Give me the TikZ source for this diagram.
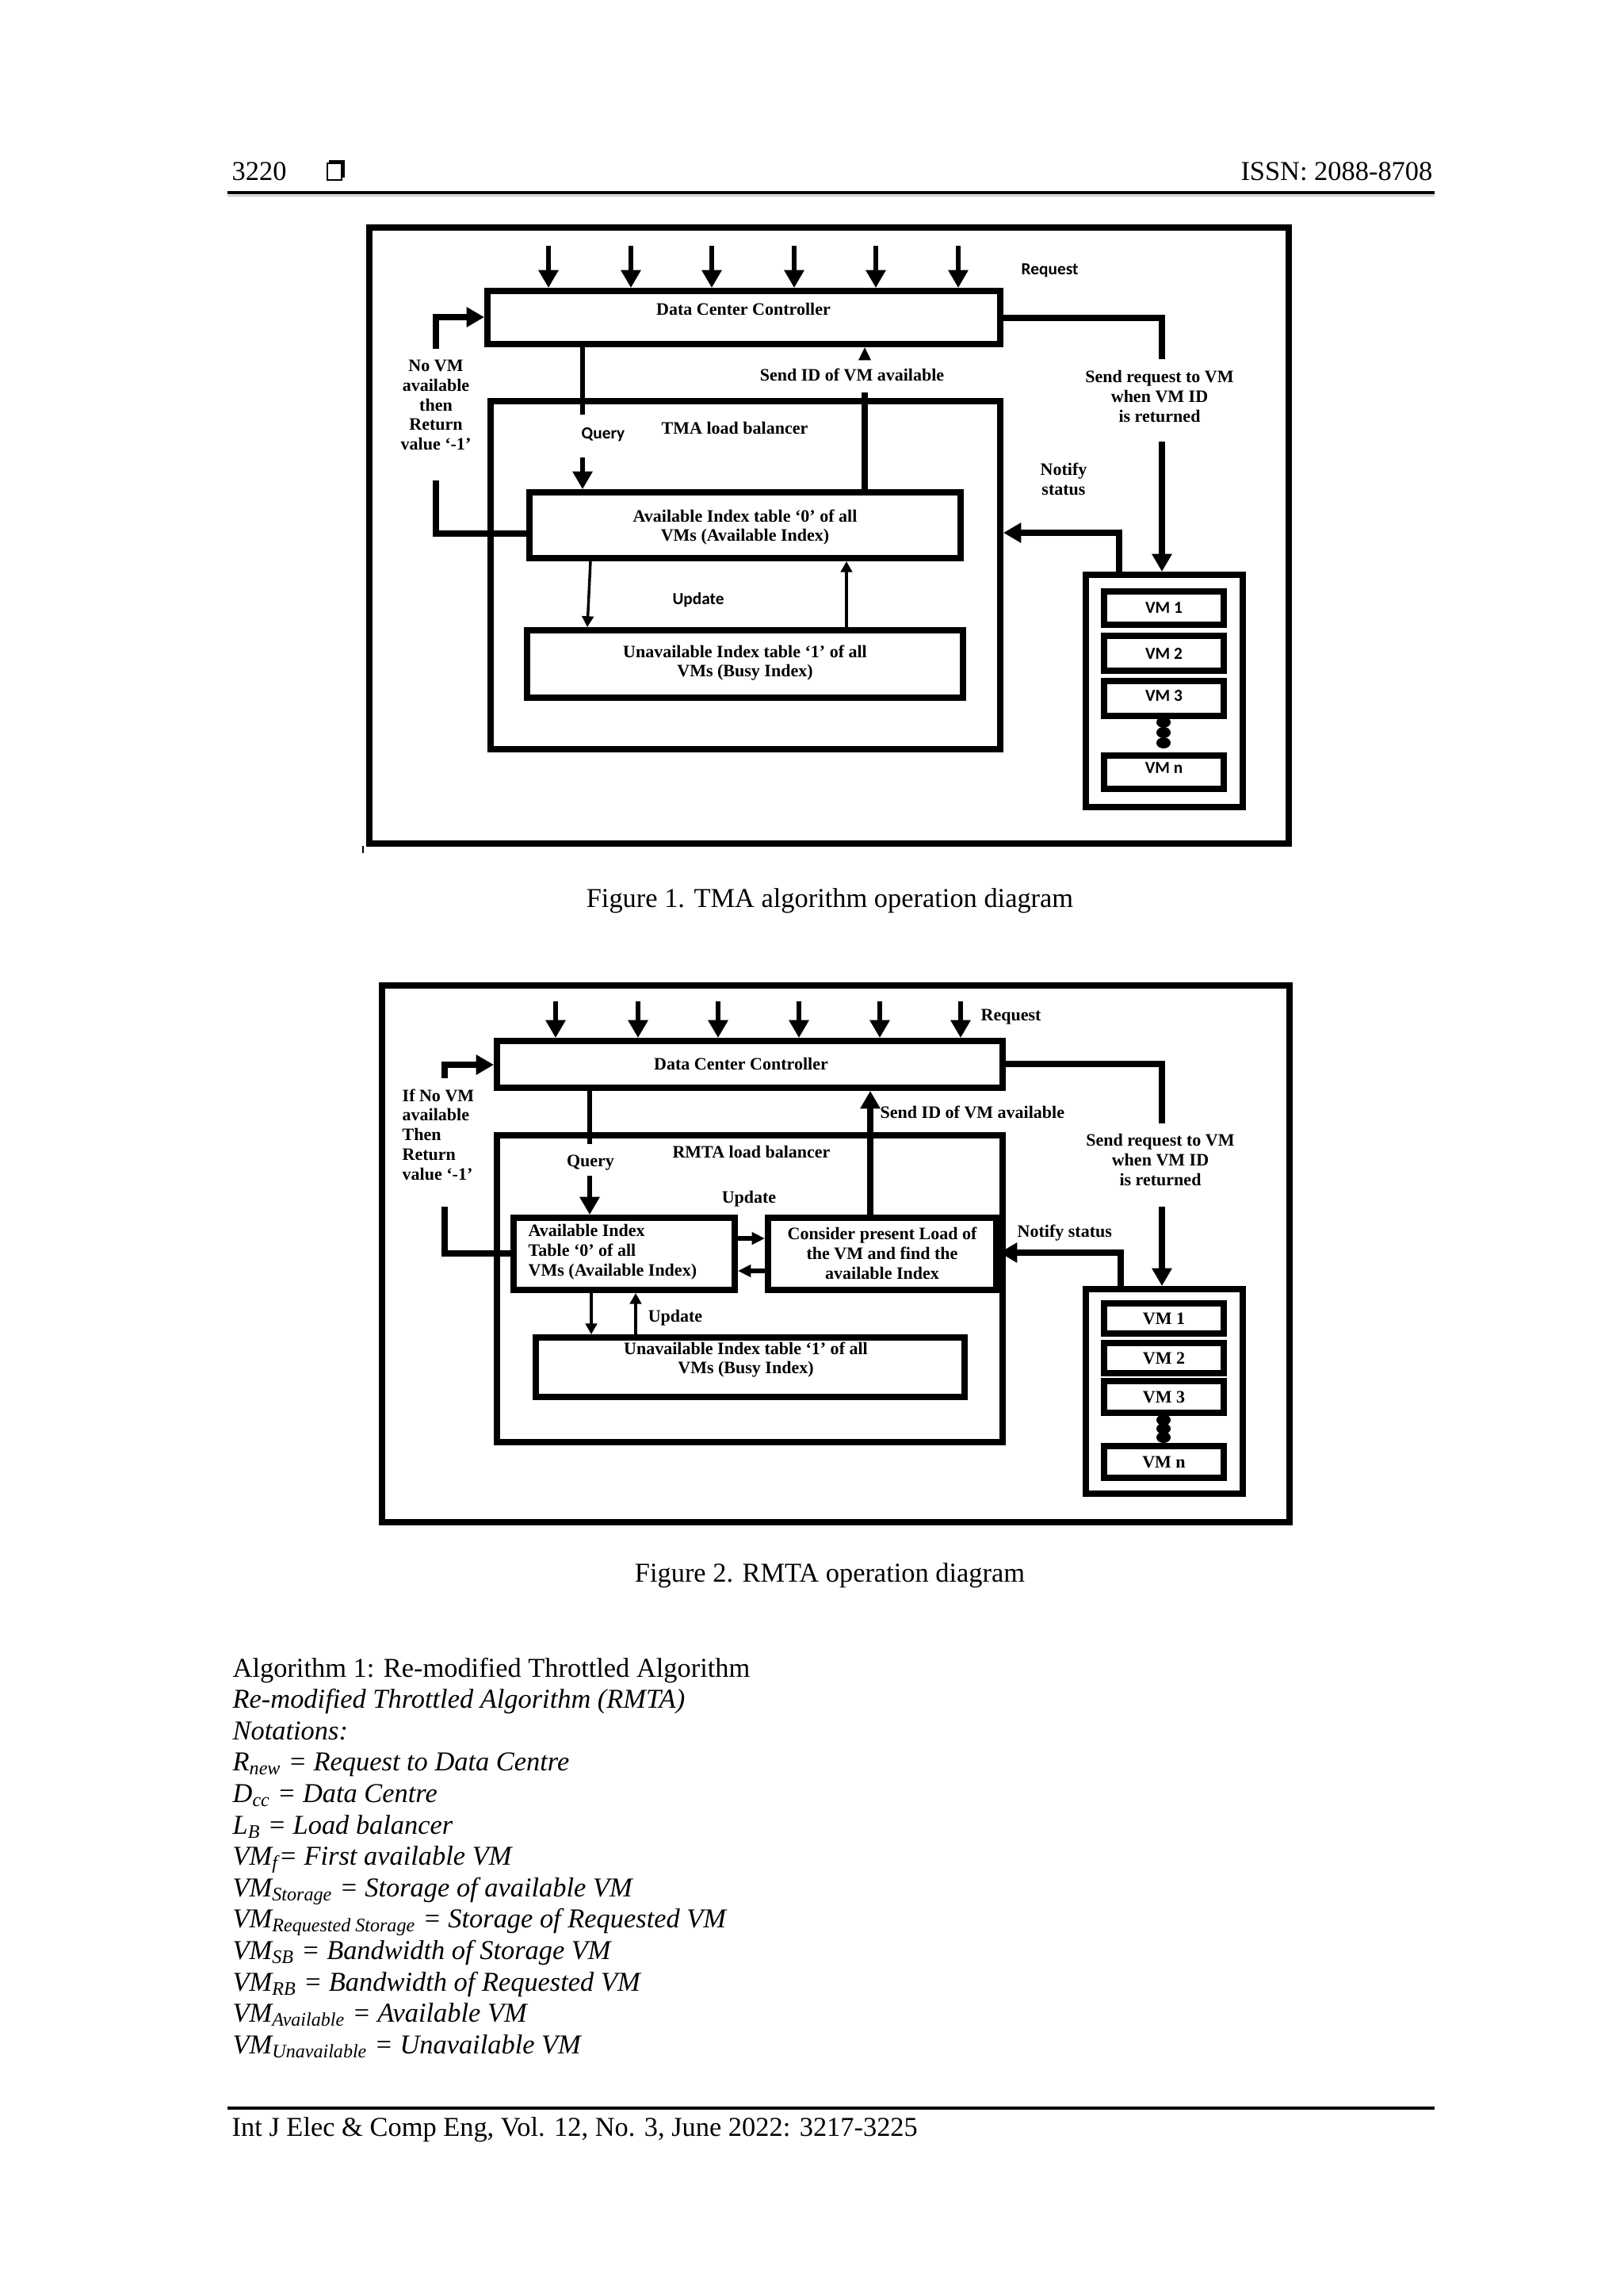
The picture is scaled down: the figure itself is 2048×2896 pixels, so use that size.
\documentclass[tikz,border=0pt]{standalone}
\usepackage{fontspec}
\setmainfont{Liberation Serif}
\newfontfamily\calib{Carlito}
\usetikzlibrary{arrows.meta,fit}
\begin{document}
\begin{tikzpicture}[x=0.29066pt,y=-0.29066pt,
  bx/.style={draw,line width=2.3pt,inner sep=0pt},
  thk/.style={line width=2.3pt,line join=miter},
  med/.style={line width=2pt},
  thn/.style={line width=1pt},
  tipL/.style={-{Triangle[width=7pt,length=6.5pt]}},
  tipM/.style={-{Triangle[width=4.4pt,length=4.8pt]}},
  tipS/.style={-{Triangle[width=4.2pt,length=4pt]}},
  lbl/.style={font=\fontsize{6.4}{7.2}\selectfont\bfseries,align=center,inner sep=0pt},
  lbll/.style={font=\fontsize{6.4}{7.2}\selectfont\bfseries,align=left,inner sep=0pt},
  lbc/.style={font=\calib\fontsize{6.2}{7.2}\selectfont\bfseries,align=center,inner sep=0pt},
  body/.style={font=\fontsize{10}{12}\selectfont,inner sep=0pt},
  ital/.style={font=\fontsize{10}{12}\selectfont\itshape,inner sep=0pt,anchor=base west}]
\useasboundingbox (0,0) rectangle (2048,2896);
\fill[white] (0,0) rectangle (2048,2896);

% ---------- header ----------
\node[body,anchor=base west] (pgno) at (292,227) {3220};
\fill (415,202) rectangle (435,224);
\filldraw[fill=white,draw=black,line width=0.5pt] (413,206) rectangle (431,227);
\node[body,anchor=base east] (issn) at (1808,227) {ISSN: 2088-8708};
\draw[line width=1pt] (287,243) -- (1810,243);
\draw[line width=0.4pt,gray!40] (287,247) -- (1810,247);

% ================= FIGURE 1 =================
\node[bx,fit={(466,287) (1626,1064)}] (frame1) {};
\node[bx,fit={(615,367) (1262,434)}] (dcc1) {};
\node[bx,fit={(619,506) (1262,945)}] (tma1) {};
\node[bx,fit={(668,621) (1212,704)}] (av1) {};
\node[bx,fit={(665,795) (1215,880)}] (un1) {};
\node[bx,fit={(1370,725) (1568,1018)}] (vmc1) {};
\node[bx,fit={(1393,746) (1544,788)}] (vma1) {};
\node[bx,fit={(1393,802) (1544,846)}] (vmb1) {};
\node[bx,fit={(1393,859) (1544,903)}] (vmcc1) {};
\node[bx,fit={(1393,953) (1544,995)}] (vmn1) {};

\node[lbc] (tvma1) at (vma1.center) {VM 1};
\node[lbc] (tvmb1) at (vmb1.center) {VM 2};
\node[lbc] (tvmc1) at ([yshift=1pt]vmcc1.center) {VM 3};
\node[lbc] (tvmn1) at ([yshift=1.5pt]vmn1.center) {VM n};
\fill (1468,911) ellipse [x radius=9,y radius=7];
\fill (1468,924) ellipse [x radius=9,y radius=7];
\fill (1468,937) ellipse [x radius=9,y radius=7];

\node[lbl] (tdcc1) at (938,390) {Data Center Controller};
\node[lbl] (ttma1) at (927,540) {TMA load balancer};
\node[lbl] (tav1) at (940,665) {Available Index table `0' of all\\VMs (Available Index)};
\node[lbl] (tun1) at (940,836) {Unavailable Index table `1' of all\\VMs (Busy Index)};
\node[lbc,anchor=west] (treq1) at (1288,341) {Request};
\node[lbl] (tnovm1) at (550,511) {No VM\\available\\then\\Return\\value `-1'};
\node[lbl] (tsid1) at (1075,473) {Send ID of VM available};
\node[lbl] (tsr1) at (1463,500) {Send request to VM\\when VM ID\\is returned};
\node[lbc] (tq1) at (761,548) {Query};
\node[lbl] (tnt1) at (1342,604) {Notify\\status};
\node[lbc] (tup1) at (881,757) {Update};

% request arrows
\foreach \i/\x in {1/692,2/796,3/898,4/1002,5/1105,6/1209}{
  \coordinate (ra\i) at (\x,310);
  \draw[med,tipL] (ra\i) -- (ra\i |- dcc1.north);
}
% left loop
\coordinate (lpa1) at (550,673);
\coordinate (lpb1) at (550,606);
\coordinate (lpc1) at (550,440);
\coordinate (lpd1) at (550,400);
\draw[thk] (av1.west |- lpa1) -- (lpa1) -- (lpb1);
\draw[thk,tipL] (lpc1) -- (lpd1) -- (dcc1.west |- lpd1);
% query
\coordinate (qa1) at (735,523);
\coordinate (qb1) at (735,577);
\draw[med] (dcc1.south -| qa1) -- (qa1);
\draw[med,tipL] (qb1) -- (av1.north -| qb1);
% send id
\coordinate (sa1) at (1091,495);
\coordinate (sb1) at (1091,452);
\draw[thk] (av1.north -| sa1) -- (sa1);
\draw[line width=1pt,tipM] (sb1) -- (dcc1.south -| sb1);
% send request
\coordinate (ta1) at (1466,401);
\coordinate (tb1) at (1466,453);
\coordinate (tc1) at (1466,557);
\draw[thk] (dcc1.east |- ta1) -- (ta1) -- (tb1);
\draw[thk,tipL] (tc1) -- (vmc1.north -| tc1);
% notify
\coordinate (na1) at (1412,672);
\draw[thk,tipL] (vmc1.north -| na1) -- (na1) -- (tma1.east |- na1);
% update
\coordinate (ua1) at (745,700);
\coordinate (ub1) at (741,800);
\coordinate (uc1) at (1068,800);
\draw[thn,tipS] (av1.south -| ua1) -- (un1.north -| ub1);
\draw[thn,tipS] (un1.north -| uc1) -- (av1.south -| uc1);
\draw[line width=0.3pt] (458,1067) -- (458,1076);

\node[body,anchor=base] (cap1) at (1047,1144) {Figure 1. TMA algorithm operation diagram};

% ================= FIGURE 2 =================
\node[bx,fit={(482,1243) (1627,1920)}] (frame2) {};
\node[bx,fit={(627,1313) (1265,1372)}] (dcc2) {};
\node[bx,fit={(627,1432) (1265,1819)}] (rm2) {};
\node[bx,fit={(648,1536) (927,1627)}] (av2) {};
\node[bx,fit={(969,1536) (1257,1627)}] (co2) {};
\node[bx,fit={(676,1687) (1217,1762)}] (un2) {};
\node[bx,fit={(1370,1626) (1568,1884)}] (vmc2) {};
\node[bx,fit={(1393,1644) (1544,1682)}] (vma2) {};
\node[bx,fit={(1393,1694) (1544,1732)}] (vmb2) {};
\node[bx,fit={(1393,1742) (1544,1782)}] (vmcc2) {};
\node[bx,fit={(1393,1824) (1544,1864)}] (vmn2) {};

\node[lbl] (tvma2) at (vma2.center) {VM 1};
\node[lbl] (tvmb2) at (vmb2.center) {VM 2};
\node[lbl] (tvmc2) at (vmcc2.center) {VM 3};
\node[lbl] (tvmn2) at (vmn2.center) {VM n};
\fill (1468,1791) ellipse [x radius=9,y radius=7];
\fill (1468,1802) ellipse [x radius=9,y radius=7];
\fill (1468,1813) ellipse [x radius=9,y radius=7];

\node[lbl] (tdcc2) at (935,1342) {Data Center Controller};
\node[lbl] (trm2) at (948,1453) {RMTA load balancer};
\node[lbl] (tup2a) at (945,1512) {Update};
\node[lbll,anchor=west] (tav2) at (666,1579) {Available Index\\Table `0' of all\\VMs (Available Index)};
\node[lbl] (tco2) at (1113,1581) {Consider present Load of\\the VM and find the\\available Index};
\node[lbl] (tun2) at (941,1715) {Unavailable Index table `1' of all\\VMs (Busy Index)};
\node[lbl,anchor=west] (treq2) at (1237,1283) {Request};
\node[lbll,anchor=west] (tnovm2) at (507,1431) {If No VM\\available\\Then\\Return\\value `-1'};
\node[lbl,anchor=west] (tsid2) at (1110,1403) {Send ID of VM available};
\node[lbl] (tsr2) at (1464,1463) {Send request to VM\\when VM ID\\is returned};
\node[lbl] (tq2) at (745,1467) {Query};
\node[lbl,anchor=west] (tnt2) at (1283,1555) {Notify status};
\node[lbl] (tup2b) at (852,1662) {Update};

% request arrows
\foreach \i/\x in {1/701,2/805,3/906,4/1008,5/1110,6/1212}{
  \coordinate (rb\i) at (\x,1263);
  \draw[med,tipL] (rb\i) -- (rb\i |- dcc2.north);
}
% left loop
\coordinate (lpa2) at (561,1581);
\coordinate (lpb2) at (561,1522);
\coordinate (lpc2) at (561,1360);
\coordinate (lpd2) at (561,1343);
\draw[thk] (av2.west |- lpa2) -- (lpa2) -- (lpb2);
\draw[thk,tipL] (lpc2) -- (lpd2) -- (dcc2.west |- lpd2);
% query
\coordinate (qa2) at (744,1443);
\coordinate (qb2) at (744,1483);
\draw[med] (dcc2.south -| qa2) -- (qa2);
\draw[med,tipL] (qb2) -- (av2.north -| qb2);
% send id
\coordinate (sa2) at (1098,1450);
\draw[thk,tipL] (co2.north -| sa2) -- (dcc2.south -| sa2);
% send request
\coordinate (ta2) at (1466,1342);
\coordinate (tb2) at (1466,1417);
\coordinate (tc2) at (1466,1522);
\draw[thk] (dcc2.east |- ta2) -- (ta2) -- (tb2);
\draw[thk,tipL] (tc2) -- (vmc2.north -| tc2);
% notify
\coordinate (na2) at (1414,1580);
\draw[thk,tipL] (vmc2.north -| na2) -- (na2) -- (co2.east |- na2);
% between available and consider
\coordinate (ha2) at (0,1562);
\coordinate (hb2) at (0,1603);
\draw[med,tipM] (av2.east |- ha2) -- (co2.west |- ha2);
\draw[med,tipM] (co2.west |- hb2) -- (av2.east |- hb2);
% update
\coordinate (ua2) at (746,1650);
\coordinate (uc2) at (802,1650);
\draw[line width=1.4pt,tipS] (av2.south -| ua2) -- (un2.north -| ua2);
\draw[line width=1.4pt,tipS] (un2.north -| uc2) -- (av2.south -| uc2);

\node[body,anchor=base] (cap2) at (1047,1995) {Figure 2. RMTA operation diagram};

% ================= ALGORITHM TEXT =================
\node[body,anchor=base west] (al1) at (293,2115) {Algorithm 1: Re-modified Throttled Algorithm};
\node[ital] (al2) at (293,2154.6) {Re-modified Throttled Algorithm (RMTA)};
\node[ital] (al3) at (293,2194.2) {Notations:};
\node[ital] (al4) at (293,2233.8) {R\textsubscript{new} = Request to Data Centre};
\node[ital] (al5) at (293,2273.4) {D\textsubscript{cc} = Data Centre};
\node[ital] (al6) at (293,2313) {L\textsubscript{B} = Load balancer};
\node[ital] (al7) at (293,2352.6) {VM\textsubscript{f}= First available VM};
\node[ital] (al8) at (293,2392.2) {VM\textsubscript{Storage} = Storage of available VM};
\node[ital] (al9) at (293,2431.8) {VM\textsubscript{Requested Storage} = Storage of Requested VM};
\node[ital] (al10) at (293,2471.4) {VM\textsubscript{SB} = Bandwidth of Storage VM};
\node[ital] (al11) at (293,2511) {VM\textsubscript{RB} = Bandwidth of Requested VM};
\node[ital] (al12) at (293,2550.6) {VM\textsubscript{Available} = Available VM};
\node[ital] (al13) at (293,2590.2) {VM\textsubscript{Unavailable} = Unavailable VM};

% ---------- footer ----------
\draw[line width=1pt] (287,2659) -- (1810,2659);
\node[body,anchor=base west] (foot) at (292,2694) {Int J Elec \& Comp Eng, Vol. 12, No. 3, June 2022: 3217-3225};
\end{tikzpicture}
\end{document}
